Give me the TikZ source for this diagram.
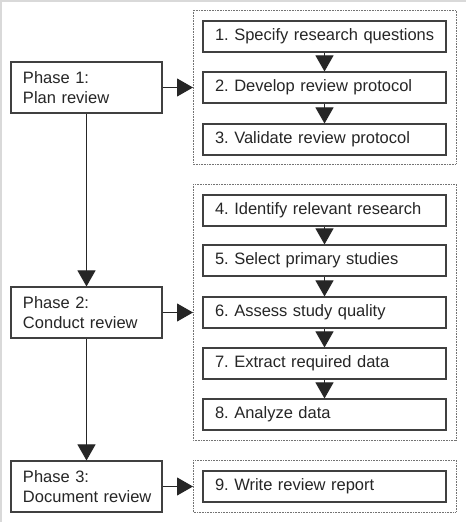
\documentclass[tikz,border=0pt]{standalone}
\usepackage{fontspec}
\setmainfont{Liberation Sans}
\usetikzlibrary{arrows.meta}
\frenchspacing
\begin{document}
\begin{tikzpicture}[x=1pt,y=-1pt,
  every node/.style={font=\fontsize{16.5}{20}\selectfont, text=black!85},
  stepbox/.style={draw=black!75, line width=1.1pt, fill=white, minimum height=31pt, text width=219pt, inner xsep=12pt, inner ysep=0pt, align=left, anchor=center},
  phasebox/.style={draw=black!75, line width=1.1pt, fill=white, minimum height=51pt, text width=127pt, inner xsep=12pt, inner ysep=0pt, align=left, anchor=center},
  grp/.style={draw=black!55, line width=0.8pt, dash pattern=on 0.8pt off 0.8pt},
  conn/.style={draw=black!85, line width=1pt, -{Triangle[length=16pt,width=18pt]}}
]
\useasboundingbox (0,0) rectangle (466,522);
\fill[white] (0,0) rectangle (466,522);
\fill[black!15] (0,0) rectangle (466,2);
\fill[black!15] (0,0) rectangle (2,522);
% groups
\draw[grp] (193,10) rectangle (456,164);
\draw[grp] (193,184) rectangle (456,440);
\draw[grp] (193,460) rectangle (456,512);
\coordinate (g1) at (193,87.5);
\coordinate (g2) at (193,312.5);
\coordinate (g3) at (193,486.5);
% phases
\node[phasebox] (p1) at (86.5,87.5) {\mbox{Phase 1:}\\\mbox{Plan review}};
\node[phasebox] (p2) at (86.5,312.5) {\mbox{Phase 2:}\\\mbox{Conduct review}};
\node[phasebox] (p3) at (86.5,486.5) {\mbox{Phase 3:}\\\mbox{Document review}};
% steps
\node[stepbox] (s1) at (324.5,36.5) {\mbox{1. Specify research questions}};
\node[stepbox] (s2) at (324.5,87.5) {\mbox{2. Develop review protocol}};
\node[stepbox] (s3) at (324.5,139.5) {\mbox{3. Validate review protocol}};
\node[stepbox] (s4) at (324.5,210.5) {\mbox{4. Identify relevant research}};
\node[stepbox] (s5) at (324.5,260.5) {\mbox{5. Select primary studies}};
\node[stepbox] (s6) at (324.5,312.5) {\mbox{6. Assess study quality}};
\node[stepbox] (s7) at (324.5,363.5) {\mbox{7. Extract required data}};
\node[stepbox] (s8) at (324.5,414.5) {\mbox{8. Analyze data}};
\node[stepbox] (s9) at (324.5,486.5) {\mbox{9. Write review report}};
% connectors
\draw[conn] (p1) -- (g1);
\draw[conn] (p2) -- (g2);
\draw[conn] (p3) -- (g3);
\draw[conn] (p1) -- (p2);
\draw[conn] (p2) -- (p3);
\draw[conn] (s1) -- (s2);
\draw[conn] (s2) -- (s3);
\draw[conn] (s4) -- (s5);
\draw[conn] (s5) -- (s6);
\draw[conn] (s6) -- (s7);
\draw[conn] (s7) -- (s8);
\end{tikzpicture}
\end{document}
